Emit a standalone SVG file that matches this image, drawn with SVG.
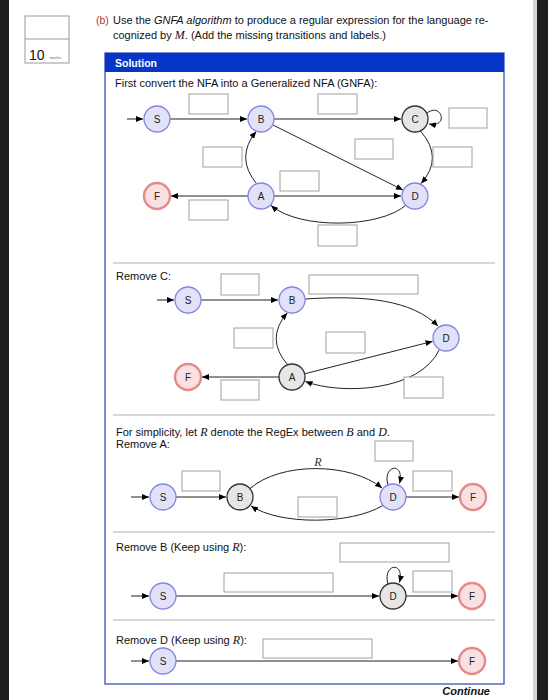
<svg xmlns="http://www.w3.org/2000/svg" width="548" height="700" viewBox="0 0 548 700">
<defs>
<marker id="ah" markerUnits="userSpaceOnUse" markerWidth="8" markerHeight="6" refX="7" refY="3" orient="auto">
<path d="M0,0 L7,3 L0,6 z" fill="#000"/>
</marker>
<style>
.t{font-family:"Liberation Sans",Arial,sans-serif;font-size:11px;fill:#111}
.m{font-family:"Liberation Serif","Times New Roman",serif;font-style:italic}
.nl{font-family:"Liberation Sans",Arial,sans-serif;font-size:10px;fill:#222;text-anchor:middle;dominant-baseline:central}
.nb{fill:#e1e1f8;stroke:#8585de;stroke-width:1.3}
.nf{fill:#f9e1e1;stroke:#e48a8a;stroke-width:2.4}
.ng{fill:#e6e6e6;stroke:#333;stroke-width:1.3}
.bx{fill:#fff;stroke:#a0a0a0;stroke-width:1}
.e{fill:none;stroke:#222;stroke-width:1;marker-end:url(#ah)}
.sep{stroke:#b0b0b0;stroke-width:1}
</style>
</defs>
<rect width="548" height="700" fill="#fff"/>
<rect x="0" y="0" width="9" height="700" fill="#1e1e1e"/>
<rect x="533" y="0" width="4" height="700" fill="#d4d4d4"/>
<rect x="537" y="0" width="11" height="700" fill="#1e1e1e"/>

<g id="marks">
<rect x="25" y="16" width="44" height="47" fill="#fff" stroke="#999" stroke-width="1"/>
<line x1="25" y1="39" x2="69" y2="39" stroke="#999"/>
<text class="t" x="29" y="60" style="font-size:14px">10</text>
<text class="t" x="50" y="59" style="font-size:4px;fill:#666">marks</text>
</g>

<text class="t" x="96" y="24" style="font-size:10.5px"><tspan fill="#b03030">(b)</tspan></text>
<text class="t" x="113" y="24">Use the <tspan font-style="italic">GNFA algorithm</tspan> to produce a regular expression for the language re-</text>
<text class="t" x="113" y="39">cognized by <tspan class="m" font-size="12">M</tspan>. (Add the missing transitions and labels.)</text>

<rect x="105" y="53" width="399" height="631" fill="none" stroke="#3d4fc0" stroke-width="1.3"/>
<rect x="105" y="53" width="399" height="19" fill="#0536c8"/>
<text class="t" x="115" y="67" style="fill:#fff;font-weight:bold;font-size:10.5px">Solution</text>
<text class="t" x="115" y="87">First convert the NFA into a Generalized NFA (GNFA):</text>

<line class="sep" x1="113" y1="263" x2="495" y2="263"/>
<line class="sep" x1="113" y1="415" x2="495" y2="415"/>
<line class="sep" x1="113" y1="532" x2="495" y2="532"/>
<line class="sep" x1="113" y1="620" x2="495" y2="620"/>

<text class="t" x="116" y="280">Remove C:</text>
<text class="t" x="116" y="436">For simplicity, let <tspan class="m" font-size="12">R</tspan> denote the RegEx between <tspan class="m" font-size="12">B</tspan> and <tspan class="m" font-size="12">D</tspan>.</text>
<text class="t" x="116" y="448">Remove A:</text>
<text class="t" x="116" y="551">Remove B (Keep using <tspan class="m" font-size="12">R</tspan>):</text>
<text class="t" x="116" y="644">Remove D (Keep using <tspan class="m" font-size="12">R</tspan>):</text>
<text class="t" x="490" y="695" text-anchor="end" style="font-weight:bold;font-style:italic">Continue</text>

<g id="connectors">
<!-- section 1 -->
<line class="e" x1="127" y1="119" x2="143" y2="119"/>
<line class="e" x1="170" y1="119" x2="247" y2="119"/>
<line class="e" x1="274" y1="119" x2="401" y2="119"/>
<path class="e" d="M427,113 C442,102 449,128 429,124"/>
<path class="e" d="M420.5,131 Q444,158 421,183.5"/>
<line class="e" x1="272.6" y1="124.8" x2="403" y2="190"/>
<path class="e" d="M256.6,183.8 Q235,157.5 256.2,131.5"/>
<line class="e" x1="248" y1="196" x2="171" y2="196"/>
<line class="e" x1="274" y1="196" x2="401" y2="196"/>
<path class="e" d="M405.8,205.2 C380,228 300,230 271,205.5"/>
<!-- section 2 -->
<line class="e" x1="157" y1="300" x2="174" y2="300"/>
<line class="e" x1="201" y1="300" x2="278" y2="300"/>
<path class="e" d="M305,299 C365,295 412,300 438,326"/>
<path class="e" d="M287.6,364.8 Q265,338.5 287.2,313"/>
<line class="e" x1="304.6" y1="373.8" x2="432.5" y2="341.4"/>
<path class="e" d="M439.5,349.3 C420,392 340,395 305.5,381.5"/>
<line class="e" x1="279" y1="377" x2="202" y2="377"/>
<!-- section 3 -->
<line class="e" x1="131" y1="497" x2="149" y2="497"/>
<line class="e" x1="176" y1="497" x2="226" y2="497"/>
<path class="e" d="M250,488.6 C280,462 350,462 382,488"/>
<path class="e" d="M383,505.4 C350,525 280,525 251,506"/>
<path class="e" d="M388,485 C382,465 405,461 399.5,483.5"/>
<line class="e" x1="406" y1="497" x2="459" y2="497"/>
<!-- section 4 -->
<line class="e" x1="131" y1="596" x2="149" y2="596"/>
<line class="e" x1="176" y1="596" x2="379" y2="596"/>
<path class="e" d="M388,584 C382,564 405,560 399.5,582.5"/>
<line class="e" x1="406" y1="596" x2="458" y2="596"/>
<!-- section 5 -->
<line class="e" x1="131" y1="661" x2="149" y2="661"/>
<line class="e" x1="176" y1="661" x2="458" y2="661"/>
</g>

<g id="labels">
<rect class="bx" x="189" y="94" width="39" height="20"/>
<rect class="bx" x="318" y="94" width="39" height="20"/>
<rect class="bx" x="449" y="108" width="38" height="20"/>
<rect class="bx" x="203" y="147" width="39" height="20"/>
<rect class="bx" x="355" y="139" width="38" height="20"/>
<rect class="bx" x="433" y="147" width="39" height="20"/>
<rect class="bx" x="280" y="171" width="39" height="20"/>
<rect class="bx" x="189" y="200" width="39" height="20"/>
<rect class="bx" x="318" y="225" width="39" height="21"/>

<rect class="bx" x="221" y="274" width="38" height="21"/>
<rect class="bx" x="309" y="275" width="109" height="19"/>
<rect class="bx" x="234" y="328" width="39" height="20"/>
<rect class="bx" x="326" y="332" width="39" height="21"/>
<rect class="bx" x="221" y="380" width="38" height="20"/>
<rect class="bx" x="404" y="377" width="39" height="21"/>

<rect class="bx" x="182" y="471" width="38" height="20"/>
<rect class="bx" x="375" y="441" width="38" height="20"/>
<rect class="bx" x="413" y="471" width="39" height="20"/>
<rect class="bx" x="298" y="497" width="39" height="20"/>
<text class="m" x="318" y="466" font-size="12" text-anchor="middle" fill="#333">R</text>

<rect class="bx" x="340" y="543" width="109" height="19"/>
<rect class="bx" x="224" y="573" width="109" height="19"/>
<rect class="bx" x="413" y="571" width="39" height="21"/>

<rect class="bx" x="263" y="639" width="109" height="19"/>
</g>

<!-- section 1 nodes -->
<g id="n1-S"><circle class="nb" cx="157" cy="119" r="13"/><text class="nl" x="157" y="119">S</text></g>
<g id="n1-B"><circle class="nb" cx="261" cy="119" r="13"/><text class="nl" x="261" y="119">B</text></g>
<g id="n1-C"><circle class="ng" cx="415" cy="119" r="13"/><text class="nl" x="415" y="119">C</text></g>
<g id="n1-F"><circle class="nf" cx="157" cy="196" r="13"/><text class="nl" x="157" y="196">F</text></g>
<g id="n1-A"><circle class="nb" cx="261" cy="196" r="13"/><text class="nl" x="261" y="196">A</text></g>
<g id="n1-D"><circle class="nb" cx="415" cy="196" r="13"/><text class="nl" x="415" y="196">D</text></g>
<!-- section 2 nodes -->
<g id="n2-S"><circle class="nb" cx="188" cy="300" r="13"/><text class="nl" x="188" y="300">S</text></g>
<g id="n2-B"><circle class="nb" cx="292" cy="300" r="13"/><text class="nl" x="292" y="300">B</text></g>
<g id="n2-D"><circle class="nb" cx="446" cy="338" r="13"/><text class="nl" x="446" y="338">D</text></g>
<g id="n2-A"><circle class="ng" cx="292" cy="377" r="13"/><text class="nl" x="292" y="377">A</text></g>
<g id="n2-F"><circle class="nf" cx="188" cy="377" r="13"/><text class="nl" x="188" y="377">F</text></g>
<!-- section 3 nodes -->
<g id="n3-S"><circle class="nb" cx="163" cy="497" r="13"/><text class="nl" x="163" y="497">S</text></g>
<g id="n3-B"><circle class="ng" cx="240" cy="497" r="13"/><text class="nl" x="240" y="497">B</text></g>
<g id="n3-D"><circle class="nb" cx="393" cy="497" r="13"/><text class="nl" x="393" y="497">D</text></g>
<g id="n3-F"><circle class="nf" cx="473" cy="497" r="13"/><text class="nl" x="473" y="497">F</text></g>
<!-- section 4 nodes -->
<g id="n4-S"><circle class="nb" cx="163" cy="596" r="13"/><text class="nl" x="163" y="596">S</text></g>
<g id="n4-D"><circle class="ng" cx="393" cy="596" r="13"/><text class="nl" x="393" y="596">D</text></g>
<g id="n4-F"><circle class="nf" cx="472" cy="596" r="13"/><text class="nl" x="472" y="596">F</text></g>
<!-- section 5 nodes -->
<g id="n5-S"><circle class="nb" cx="163" cy="661" r="13"/><text class="nl" x="163" y="661">S</text></g>
<g id="n5-F"><circle class="nf" cx="472" cy="661" r="13"/><text class="nl" x="472" y="661">F</text></g>
</svg>
